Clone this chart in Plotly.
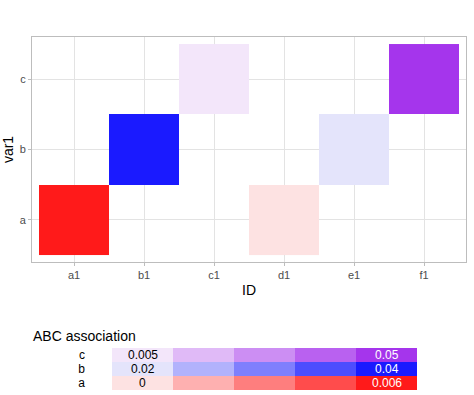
import plotly.graph_objects as go

# ---- data ----
ids = ["a1", "b1", "c1", "d1", "e1", "f1"]
var1_levels = ["a", "b", "c"]
tile_id = ["a1", "b1", "c1", "d1", "e1", "f1"]
tile_var1 = ["a", "b", "c", "a", "b", "c"]
tile_value = [0.006, 0.04, 0.005, 0.0, 0.02, 0.05]

# per-group colour ramps (low -> high) and legend range labels
ramp_low = {"a": "#FDE2E2", "b": "#E4E4FB", "c": "#F3E6FA"}
ramp_high = {"a": "#FF1A1A", "b": "#1A1AFF", "c": "#A535EC"}
legend_rows = ["a", "b", "c"]
legend_low_label = {"a": "0", "b": "0.02", "c": "0.005"}
legend_high_label = {"a": "0.006", "b": "0.04", "c": "0.05"}
legend_steps = [0.0, 0.25, 0.5, 0.75, 1.0]

FONT = "Liberation Sans, Arial, sans-serif"
W, H = 474, 395

fig = go.Figure()

for g in var1_levels:
    vals = {i: v for i, gg, v in zip(tile_id, tile_var1, tile_value) if gg == g}
    z = [[(vals.get(i) if row == g else None) for i in ids] for row in var1_levels]
    vmin, vmax = min(vals.values()), max(vals.values())
    fig.add_trace(go.Heatmap(
        x=ids, y=var1_levels, z=z, zmin=vmin, zmax=vmax,
        colorscale=[[0, ramp_low[g]], [1, ramp_high[g]]],
        showscale=False, hoverongaps=False, xaxis="x", yaxis="y",
    ))

# legend ramps
steps_x = [str(k) for k in range(len(legend_steps))]
for g in legend_rows:
    z = [[(s if row == g else None) for s in legend_steps] for row in legend_rows]
    fig.add_trace(go.Heatmap(
        x=steps_x, y=legend_rows, z=z,
        zmin=0, zmax=1,
        colorscale=[[0, ramp_low[g]], [1, ramp_high[g]]],
        showscale=False, hoverongaps=False, xaxis="x2", yaxis="y2",
    ))
    fig.add_annotation(x=steps_x[0], y=g, xref="x2", yref="y2", text=legend_low_label[g],
                       showarrow=False, font=dict(family=FONT, size=12, color="black"))
    fig.add_annotation(x=steps_x[-1], y=g, xref="x2", yref="y2",
                       text=legend_high_label[g], showarrow=False,
                       font=dict(family=FONT, size=12, color="white"))

fig.add_annotation(x=31 / W, y=1 - 336 / H, xref="paper", yref="paper",
                   text="ABC association", showarrow=False, xanchor="left",
                   yanchor="middle", font=dict(family=FONT, size=14, color="black"))

grid = "#E3E3E3"
border = "#BDBDBD"
fig.update_layout(
    width=W, height=H,
    margin=dict(l=0, r=0, t=0, b=0),
    paper_bgcolor="white", plot_bgcolor="white",
    font=dict(family=FONT),
    xaxis=dict(domain=[32 / W, 466 / W], anchor="y", automargin=False,
               categoryorder="array", categoryarray=ids,
               range=[-0.6, 5.6], showgrid=True, gridcolor=grid, gridwidth=1,
               showline=True, linecolor=border, linewidth=1, mirror=True,
               ticks="outside", ticklen=3, tickcolor=border,
               tickfont=dict(size=11, color="#4D4D4D"),
               title=dict(text="ID", font=dict(size=14, color="black"), standoff=4),
               zeroline=False, fixedrange=True),
    yaxis=dict(domain=[1 - 262 / H, 1 - 37 / H], anchor="x", automargin=False,
               categoryorder="array", categoryarray=var1_levels,
               range=[-0.6, 2.6], showgrid=True, gridcolor=grid, gridwidth=1,
               showline=True, linecolor=border, linewidth=1, mirror=True,
               ticks="outside", ticklen=3, tickcolor=border,
               tickfont=dict(size=11, color="#4D4D4D"),
               title=dict(text="var1", font=dict(size=14, color="black"), standoff=6),
               zeroline=False, fixedrange=True),
    xaxis2=dict(domain=[112 / W, 417 / W], anchor="y2", range=[-0.5, 4.5], automargin=False,
                type="category", categoryorder="array", categoryarray=steps_x,
                showgrid=False, showticklabels=False, zeroline=False, showline=False,
                ticks="", fixedrange=True),
    yaxis2=dict(domain=[1 - 390 / H, 1 - 348 / H], anchor="x2", automargin=False,
                categoryorder="array", categoryarray=legend_rows,
                range=[-0.5, 2.5], showgrid=False, zeroline=False, showline=False,
                ticks="", ticklabelstandoff=26, fixedrange=True,
                tickfont=dict(size=12, color="black")),
)

fig.write_html("out.html", config={"displayModeBar": False},
               post_script="document.body.style.margin='0';document.body.style.overflow='hidden';")
